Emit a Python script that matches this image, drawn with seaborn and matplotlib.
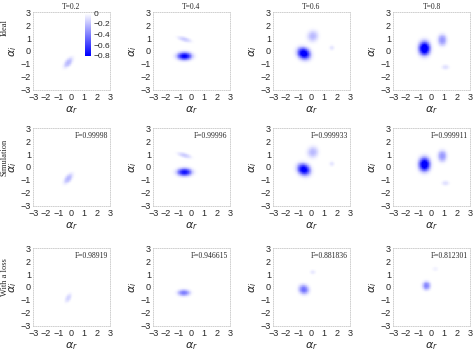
import numpy as np
import pandas as pd
import matplotlib
matplotlib.use("Agg")
import matplotlib.pyplot as plt
import seaborn as sns
from matplotlib.colors import LinearSegmentedColormap

t_values = [0.2, 0.4, 0.6, 0.8]
row_names = ["Ideal", "Simulation", "With a loss"]
fid_sim = ["0.99998", "0.99996", "0.999933", "0.999911"]
fid_loss = ["0.98919", "0.946615", "0.881836", "0.812301"]
axis_ticks = [-3, -2, -1, 0, 1, 2, 3]
cbar_ticks = [0, -0.2, -0.4, -0.6, -0.8]
cbar_labels = ["0", "\u22120.2", "\u22120.4", "\u22120.6", "\u22120.8"]

# negative regions: (alpha_r, alpha_i, half-width r, half-width i, tilt deg, depth)
ideal_blobs = [
    [(-0.25, -0.9, 0.24, 0.45, -40, -0.22)],
    [(-0.55, -0.4, 0.55, 0.3, 0, -0.8), (-0.55, 0.9, 0.5, 0.18, -15, -0.16)],
    [(-0.6, -0.2, 0.5, 0.42, -30, -0.9), (0.1, 1.15, 0.4, 0.42, -30, -0.22), (1.6, 0.25, 0.2, 0.2, 0, -0.08)],
    [(-0.55, 0.2, 0.42, 0.52, 0, -1.0), (0.85, 0.85, 0.34, 0.42, 0, -0.32), (1.1, -1.25, 0.28, 0.2, 0, -0.1)],
]
sim_blobs = [
    [(-0.25, -0.9, 0.24, 0.45, -40, -0.22)],
    [(-0.55, -0.4, 0.55, 0.3, 0, -0.75), (-0.55, 0.9, 0.5, 0.18, -15, -0.16)],
    [(-0.6, -0.2, 0.5, 0.42, -30, -0.85), (0.1, 1.15, 0.4, 0.42, -30, -0.22), (1.6, 0.25, 0.2, 0.2, 0, -0.08)],
    [(-0.55, 0.2, 0.42, 0.52, 0, -0.95), (0.85, 0.85, 0.34, 0.42, 0, -0.32), (1.1, -1.25, 0.28, 0.2, 0, -0.1)],
]
loss_blobs = [
    [(-0.25, -0.85, 0.2, 0.35, -30, -0.13)],
    [(-0.6, -0.45, 0.45, 0.25, 0, -0.4)],
    [(-0.6, -0.2, 0.38, 0.35, -30, -0.45), (0.1, 1.15, 0.22, 0.18, 0, -0.07)],
    [(-0.4, 0.1, 0.3, 0.32, 0, -0.38), (0.3, 1.4, 0.22, 0.18, 0, -0.04)],
]
all_blobs = [ideal_blobs, sim_blobs, loss_blobs]

step = 0.05
grid = np.round(np.arange(-3, 3 + step / 2, step), 2)
xr, yi = np.meshgrid(grid, grid[::-1])


def wigner_table(blobs):
    w = np.zeros_like(xr)
    for cx, cy, sx, sy, ang, depth in blobs:
        a = np.deg2rad(ang)
        u = (xr - cx) * np.cos(a) + (yi - cy) * np.sin(a)
        v = -(xr - cx) * np.sin(a) + (yi - cy) * np.cos(a)
        w += depth * np.exp(-((u / sx) ** 2 + (v / sy) ** 2) ** 1.2)
    return pd.DataFrame(w, index=grid[::-1], columns=grid)


cmap = LinearSegmentedColormap.from_list("negblue", ["#0000ff", "#ffffff"])

sns.set_style("white")
plt.rcParams["font.family"] = ["Liberation Sans", "DejaVu Sans"]
fig = plt.figure(figsize=(4.74, 3.54), dpi=100)

lefts = [33, 153, 273, 393]
tops = [12, 128, 248]
W, H = 77, 78
label_y = [28, 157, 277]
tick_text = [str(v).replace("-", "\u2212") for v in axis_ticks]

for r in range(3):
    for c in range(4):
        ax = fig.add_axes([lefts[c] / 474, 1 - (tops[r] + H) / 354, W / 474, H / 354])
        table = wigner_table(all_blobs[r][c])
        first = r == 0 and c == 0
        cax = None
        if first:
            cax = fig.add_axes([85 / 474, 1 - 55.5 / 354, 6 / 474, 42 / 354])
        sns.heatmap(table, ax=ax, cmap=cmap, vmin=-0.8, vmax=0, cbar=first, cbar_ax=cax,
                    xticklabels=False, yticklabels=False, rasterized=True)
        pos = [(v + 3) / step + 0.5 for v in axis_ticks]
        ax.set_xticks(pos)
        ax.set_xticklabels(tick_text, fontsize=6.5)
        ax.set_yticks(pos[::-1])
        ax.set_yticklabels(tick_text, fontsize=6.5, rotation=0)
        ax.tick_params(axis="x", length=0, pad=2.5)
        ax.tick_params(axis="y", length=0, pad=1.5)
        for s in ax.spines.values():
            s.set_visible(True)
            s.set_color("#c8c8c8")
            s.set_linewidth(0.6)
            s.set_linestyle(":")
        ax.set_xlabel(r"$\alpha_r$", fontsize=8, labelpad=1, family="DejaVu Serif")
        ax.set_ylabel(r"$\alpha_i$", fontsize=8, labelpad=1, family="DejaVu Serif")
        if r == 0:
            ax.set_title(f"T={t_values[c]}", fontsize=5.5, pad=2, family="Liberation Serif")
        if r == 1:
            ax.text(0.97, 0.9, f"F={fid_sim[c]}", transform=ax.transAxes, ha="right", va="center",
                    fontsize=5.5, family="Liberation Serif")
        if r == 2:
            ax.text(0.97, 0.9, f"F={fid_loss[c]}", transform=ax.transAxes, ha="right", va="center",
                    fontsize=5.5, family="Liberation Serif")
        if first:
            cax.set_yticks(cbar_ticks)
            cax.set_yticklabels(cbar_labels, fontsize=6)
            cax.tick_params(length=0, pad=2)
            for s in cax.spines.values():
                s.set_visible(False)
    fig.text(5 / 474, 1 - label_y[r] / 354, row_names[r], rotation=90, ha="center", va="center",
             fontsize=6, family="Liberation Serif")

fig.savefig("out.png", dpi=100)
